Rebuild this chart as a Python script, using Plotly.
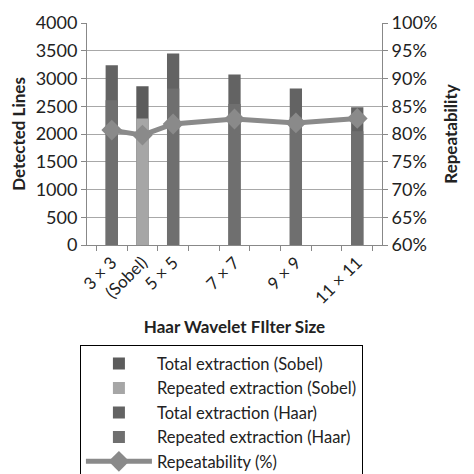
import plotly.graph_objects as go

# categorías (huecos vacíos entre tamaños de filtro)
categorias = ["3 × 3", "(Sobel)", "5 × 5", " ", "7 × 7", "  ", "9 × 9", "   ", "11 × 11"]

total_sobel = [None, 2860, None, None, None, None, None, None, None]
repetidas_sobel = [None, 2280, None, None, None, None, None, None, None]
total_haar = [3240, None, 3450, None, 3070, None, 2820, None, 2480]
repetidas_haar = [2610, None, 2820, None, 2540, None, 2310, None, 2050]
repetibilidad = [80.7, 79.8, 81.8, None, 82.7, None, 82.0, None, 82.8]

FUENTE = "Lato"
# la página deja 8 px de margen en el body
W = H = 466

fig = go.Figure()

fig.add_trace(go.Bar(
    x=categorias, y=total_sobel, name="Total extraction (Sobel)",
    marker=dict(color="#5c5c5c", line=dict(width=0)), width=0.4
))
fig.add_trace(go.Bar(
    x=categorias, y=repetidas_sobel, name="Repeated extraction (Sobel)",
    marker=dict(color="#a6a6a6", line=dict(width=0)), width=0.4
))
fig.add_trace(go.Bar(
    x=categorias, y=total_haar, name="Total extraction (Haar)",
    marker=dict(color="#636363", line=dict(width=0)), width=0.4
))
fig.add_trace(go.Bar(
    x=categorias, y=repetidas_haar, name="Repeated extraction (Haar)",
    marker=dict(color="#6f6f6f", line=dict(width=0)), width=0.4
))
fig.add_trace(go.Scatter(
    x=categorias, y=repetibilidad, name="Repeatability (%)", yaxis="y2",
    mode="lines+markers", connectgaps=True,
    line=dict(color="#8a8a8a", width=5),
    marker=dict(symbol="diamond", size=16, color="#8a8a8a")
))

fig.update_layout(
    width=W, height=H,
    barmode="overlay",
    paper_bgcolor="white", plot_bgcolor="white",
    font=dict(family=FUENTE, size=18, color="#222"),
    margin=dict(l=79, r=92, t=15, b=229, autoexpand=False),
    xaxis=dict(
        type="category", tickangle=-45, tickson="boundaries",
        ticks="outside", ticklen=5, tickcolor="#888",
        showline=True, linecolor="#888", linewidth=1,
        showgrid=False, automargin=False,
        tickfont=dict(size=17),
        title=dict(text="<b>Haar Wavelet FIlter Size</b>", font=dict(size=17), standoff=14),
    ),
    yaxis=dict(
        range=[0, 4000], dtick=500, tickformat="d",
        ticks="outside", ticklen=5, tickcolor="#888",
        showline=True, linecolor="#888", linewidth=1,
        showgrid=True, gridcolor="#a8a8a8", gridwidth=1,
        zeroline=False, automargin=False,
        title=dict(text="<b>Detected Lines</b>", font=dict(size=17), standoff=6),
    ),
    yaxis2=dict(
        overlaying="y", side="right",
        range=[60, 100], dtick=5, ticksuffix="%",
        ticks="outside", ticklen=5, tickcolor="#888",
        showline=True, linecolor="#888", linewidth=1,
        showgrid=False, zeroline=False, automargin=False,
        title=dict(text="<b>Repeatability</b>", font=dict(size=17), standoff=8),
    ),
    legend=dict(
        x=-0.024, y=-0.452, xanchor="left", yanchor="top",
        bordercolor="black", borderwidth=1, bgcolor="white",
        font=dict(size=16.5), tracegroupgap=0, itemwidth=66,
    ),
    showlegend=True,
)

fig.write_html("out.html")
